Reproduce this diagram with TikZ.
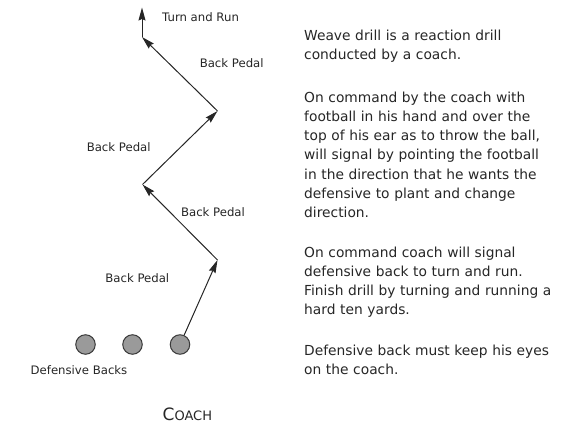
\documentclass[tikz,border=0pt]{standalone}
\usepackage{fontspec}
\setmainfont{DejaVu Sans}
\usetikzlibrary{arrows.meta}
\definecolor{ink}{HTML}{262626}
\definecolor{dot}{HTML}{9A9A9A}
\begin{document}
\begin{tikzpicture}[x=1pt,y=-1pt,
  route/.style={draw=ink, line width=1pt, -{Stealth[length=13pt,width=7pt,inset=1.5pt]}},
  back/.style={circle, draw=ink!90, line width=1pt, fill=dot, minimum size=19.5pt, inner sep=0pt},
  lbl/.style={text=ink, inner sep=0pt, font=\fontsize{11.7}{14}\selectfont},
  para/.style={text=ink, inner sep=0pt, anchor=base west, text width=262pt, align=left,
               font=\fontsize{13.8}{19.2}\selectfont}]
\path[use as bounding box] (0,0) rectangle (564,430);

% defensive backs
\node[back] (db1) at (85.5,344.5) {};
\node[back] (db2) at (132.5,344.5) {};
\node[back] (db3) at (180,344.5) {};

% route points
\coordinate (p1) at (217.5,260);
\coordinate (p2) at (142.5,184.5);
\coordinate (p3) at (217.5,111);
\coordinate (p4) at (142,37);
\coordinate (p5) at (142,7.5);

\draw[route] (db3) -- (p1);
\draw[route] (p1) -- (p2);
\draw[route] (p2) -- (p3);
\draw[route] (p3) -- (p4);
\draw[route] (p4) -- (p5);

% labels
\node[lbl, anchor=base west] (tr) at (162,21.5) {Turn and Run};
\node[lbl] (bp1) at (231.7,63) {Back Pedal};
\node[lbl] (bp2) at (118.7,147) {Back Pedal};
\node[lbl] (bp3) at (213,212) {Back Pedal};
\node[lbl] (bp4) at (137.3,278) {Back Pedal};
\node[lbl] (dbl) at (79,370) {Defensive Backs};
\node[text=ink, inner sep=0pt, anchor=base west] (coach) at (162.5,420)
  {{\fontsize{17}{18}\selectfont C}{\fontsize{13}{14}\selectfont OACH}};

% description
\node[para] (t1) at (304,40.7) {Weave drill is a reaction drill\\conducted by a coach.};
\node[para] (t2) at (304,102.3) {On command by the coach with\\football in his hand and over the\\top of his ear as to throw the ball,\\will signal by pointing the football\\in the direction that he wants the\\defensive to plant and change\\direction.};
\node[para] (t3) at (304,257.3) {On command coach will signal\\defensive back to turn and run.\\Finish drill by turning and running a\\hard ten yards.};
\node[para] (t4) at (304,355.7) {Defensive back must keep his eyes\\on the coach.};
\end{tikzpicture}
\end{document}
